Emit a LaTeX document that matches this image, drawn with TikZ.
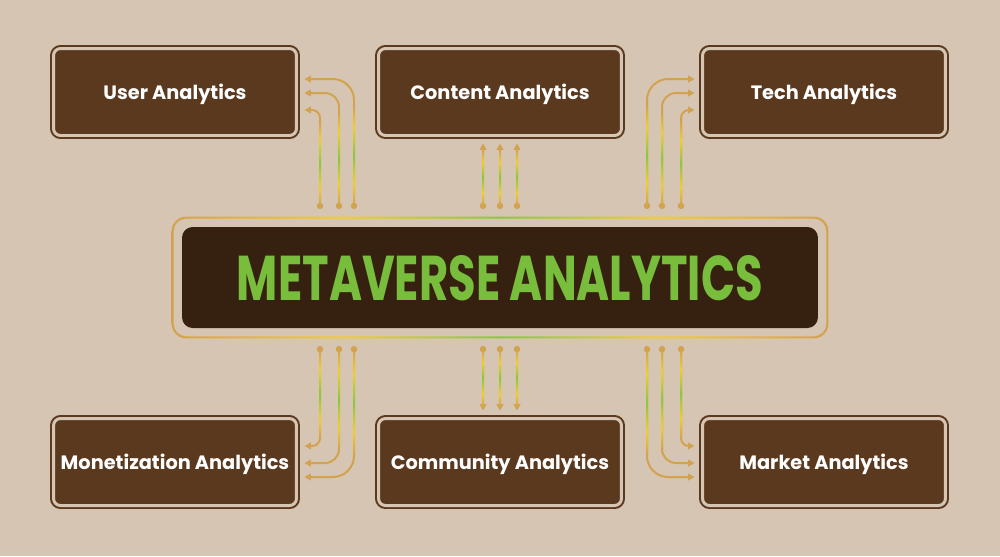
\documentclass[tikz,border=0pt]{standalone}
\usepackage{fontspec}
\usepackage{graphicx}
\usepackage{xcolor}
\setmainfont{Poppins}
\usetikzlibrary{arrows.meta}

\definecolor{bgbeige}{HTML}{D6C5B2}
\definecolor{boxbrown}{HTML}{5B391E}
\definecolor{titlebrown}{HTML}{362010}
\definecolor{titlegreen}{HTML}{78BE3C}
\definecolor{linkgold}{HTML}{D3A24E}
\definecolor{glowyellow}{HTML}{F0CF2C}
\definecolor{glowgreen}{HTML}{8CC63F}

\pgfdeclareverticalshading{glow}{100bp}{color(0bp)=(linkgold); color(25bp)=(linkgold); color(36bp)=(glowyellow); color(50bp)=(glowgreen); color(64bp)=(glowyellow); color(75bp)=(linkgold); color(100bp)=(linkgold)}
\pgfdeclarehorizontalshading{glowh}{100bp}{color(0bp)=(linkgold); color(25bp)=(linkgold); color(38bp)=(glowyellow); color(50bp)=(glowgreen); color(62bp)=(glowyellow); color(75bp)=(linkgold); color(100bp)=(linkgold)}

\tikzset{
  topic/.style={draw=boxbrown, fill=boxbrown, line width=1.13pt, double=bgbeige,
    double distance=1.7pt, rounded corners=4pt, minimum width=4.86cm,
    minimum height=1.74cm, inner sep=0pt, text depth=0pt, text=white,
    font=\fontsize{11}{13}\selectfont\bfseries},
  maintitle/.style={fill=titlebrown, rounded corners=6pt, minimum width=12.72cm,
    minimum height=2.02cm, inner sep=0pt, text depth=0pt, text=titlegreen,
    font=\fontsize{36}{40}\selectfont\bfseries},
  link/.style={draw=linkgold, line width=1.13pt, shorten >=4pt,
    arrows={Circle[length=3.6pt]-Triangle[length=3.6pt,width=3.8pt]}}
}

\begin{document}
\begin{tikzpicture}[x=0.02cm,y=-0.02cm]
    \useasboundingbox (0,0) rectangle (1000,556);
    \fill[bgbeige] (0,0) rectangle (1000,556);

    % boxes
    \node[topic] (user) at (175,92) {User Analytics};
    \node[topic] (content) at (500,92) {Content Analytics};
    \node[topic] (tech) at (824,92) {Tech Analytics};
    \node[topic] (money) at (175,462) {Monetization Analytics};
    \node[topic] (community) at (500,462) {Community Analytics};
    \node[topic] (market) at (824,462) {Market Analytics};

    % centre
    \node[maintitle] (title) at (500,277.5) {\scalebox{0.71}[1]{METAVERSE ANALYTICS}};
    \shade[shading=glowh, even odd rule, rounded corners=8pt]
        ([shift={(-10,-10)}]title.north west) rectangle ([shift={(10,10)}]title.south east)
        [rounded corners=7pt]
        ([shift={(-8,-8)}]title.north west) rectangle ([shift={(8,8)}]title.south east);

    % dots
    \coordinate (a1) at (320,209);
    \coordinate (a2) at (339,209);
    \coordinate (a3) at (354,209);
    \coordinate (b1) at (483,209);
    \coordinate (b2) at (500,209);
    \coordinate (b3) at (517,209);
    \coordinate (c1) at (647,209);
    \coordinate (c2) at (662,209);
    \coordinate (c3) at (681,209);
    \coordinate (d1) at (320,346);
    \coordinate (d2) at (339,346);
    \coordinate (d3) at (354,346);
    \coordinate (e1) at (483,346);
    \coordinate (e2) at (500,346);
    \coordinate (e3) at (517,346);
    \coordinate (f1) at (647,346);
    \coordinate (f2) at (662,346);
    \coordinate (f3) at (681,346);

    % top links
    \draw[link, rounded corners=4.5pt] (a1) |- ([shift={(0,18)}]user.east);
    \draw[link, rounded corners=8pt] (a2) |- ([shift={(0,1)}]user.east);
    \draw[link, rounded corners=12pt] (a3) |- ([shift={(0,-13)}]user.east);
    \draw[link] (b1) -- (b1 |- content.south);
    \draw[link] (b2) -- (b2 |- content.south);
    \draw[link] (b3) -- (b3 |- content.south);
    \draw[link, rounded corners=12pt] (c1) |- ([shift={(0,-13)}]tech.west);
    \draw[link, rounded corners=8pt] (c2) |- ([shift={(0,1)}]tech.west);
    \draw[link, rounded corners=4.5pt] (c3) |- ([shift={(0,18)}]tech.west);

    % bottom links
    \draw[link, rounded corners=4.5pt] (d1) |- ([shift={(0,-16)}]money.east);
    \draw[link, rounded corners=8pt] (d2) |- ([shift={(0,1)}]money.east);
    \draw[link, rounded corners=12pt] (d3) |- ([shift={(0,15)}]money.east);
    \draw[link] (e1) -- (e1 |- community.north);
    \draw[link] (e2) -- (e2 |- community.north);
    \draw[link] (e3) -- (e3 |- community.north);
    \draw[link, rounded corners=12pt] (f1) |- ([shift={(0,15)}]market.west);
    \draw[link, rounded corners=8pt] (f2) |- ([shift={(0,1)}]market.west);
    \draw[link, rounded corners=4.5pt] (f3) |- ([shift={(0,-16)}]market.west);

    % glow on the straight parts
    \foreach \x/\ya/\yb in {320/205/122, 339/205/112, 354/205/105,
        483/205/150, 500/205/150, 517/205/150,
        647/205/105, 662/205/112, 681/205/122,
        320/350/438, 339/350/449, 354/350/455,
        483/350/406, 500/350/406, 517/350/406,
        647/350/455, 662/350/449, 681/350/438}
        \shade[shading=glow] (\x-1,\ya) rectangle (\x+1,\yb);
\end{tikzpicture}
\end{document}
